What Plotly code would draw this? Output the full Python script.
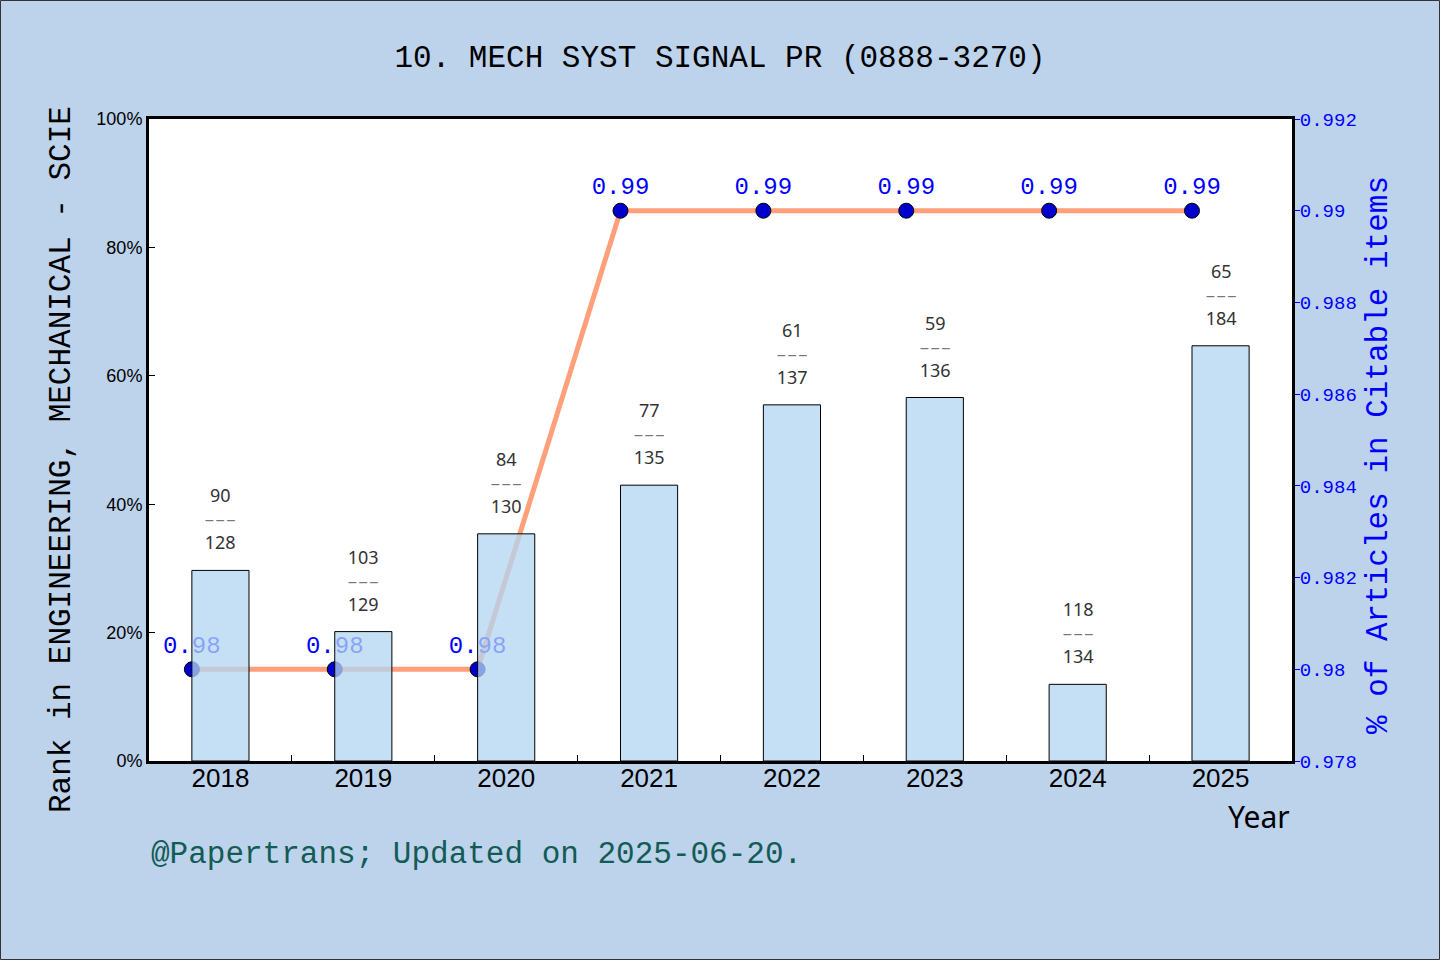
import plotly.graph_objects as go

years = [2018, 2019, 2020, 2021, 2022, 2023, 2024, 2025]
ranks = [90, 103, 84, 77, 61, 59, 118, 65]
totals = [128, 129, 130, 135, 137, 136, 134, 184]
citable = [0.98, 0.98, 0.98, 0.99, 0.99, 0.99, 0.99, 0.99]

left_ticks = [0, 0.2, 0.4, 0.6, 0.8, 1.0]
right_ticks = [0.978, 0.98, 0.982, 0.984, 0.986, 0.988, 0.99, 0.992]

BG = "#BDD3EC"
MONO = "Liberation Mono, DejaVu Sans Mono, monospace"
NARROW = "Liberation Sans Narrow, Arial Narrow, Liberation Sans, sans-serif"

idx = list(range(len(years)))
share = [1 - r / t for r, t in zip(ranks, totals)]
bar_w = 0.4

fig = go.Figure()

# line first (on 'y'), so that the bars on the overlaying axis sit above it
fig.add_trace(go.Scatter(
    x=[i - bar_w / 2 for i in idx],
    y=citable,
    mode="lines+markers+text",
    text=[f"{v:.2f}" for v in citable],
    textposition="top center",
    textfont=dict(family=MONO, size=24, color="#0000FF"),
    line=dict(color="#FFA07A", width=5),
    marker=dict(size=15, color="#0000CD", line=dict(color="black", width=1)),
    yaxis="y",
    showlegend=False,
    cliponaxis=False,
))

fig.add_trace(go.Bar(
    x=idx,
    y=share,
    width=bar_w,
    marker=dict(color="rgba(179,213,242,0.76)", line=dict(color="black", width=1)),
    yaxis="y2",
    showlegend=False,
))

for i, s, r, t in zip(idx, share, ranks, totals):
    fig.add_annotation(
        x=i, y=s, xref="x", yref="y2",
        text=f"{r}<br><span style='font-family:Liberation Mono;color:#777'>–––</span><br>{t}",
        showarrow=False, yanchor="bottom", yshift=14,
        font=dict(family="Noto Sans, sans-serif", size=18, color="#333333"),
    )

fig.update_layout(
    width=1440, height=960,
    paper_bgcolor=BG, plot_bgcolor="white",
    margin=dict(l=149, r=148, t=119, b=199),
    title=dict(
        text="10. MECH SYST SIGNAL PR (0888-3270)",
        x=0.5, xanchor="center", y=0.941, yanchor="middle",
        font=dict(family=MONO, size=31, color="black"),
    ),
    xaxis=dict(
        range=[-0.5, len(years) - 0.5],
        tickvals=idx, ticktext=[str(y) for y in years],
        ticks="", showgrid=False, zeroline=False, ticklabelstandoff=-8,
        showline=True, linecolor="black", linewidth=3, mirror=True,
        tickfont=dict(family=NARROW, size=26, color="black"),
        minor=dict(tickvals=[i + 0.5 for i in idx[:-1]], ticks="inside",
                   ticklen=6, tickcolor="black", showgrid=False),
    ),
    yaxis=dict(
        side="right", range=[right_ticks[0], right_ticks[-1]],
        tickvals=right_ticks, ticktext=[f"{v:g}" for v in right_ticks],
        ticks="outside", ticklen=5, tickcolor="#0000FF",
        showgrid=False, zeroline=False, ticklabelstandoff=-4,
        showline=True, linecolor="black", linewidth=3,
        tickfont=dict(family=MONO, size=19, color="#0000FF"),
    ),
    yaxis2=dict(
        side="left", overlaying="y", range=[0, 1],
        tickvals=left_ticks, ticktext=[f"{int(v * 100)}%" for v in left_ticks],
        ticks="inside", ticklen=6, tickcolor="black",
        showgrid=False, zeroline=False,
        showline=True, linecolor="black", linewidth=3,
        tickfont=dict(family=NARROW, size=18, color="black"),
    ),
)

fig.add_annotation(
    text="Rank in ENGINEERING, MECHANICAL - SCIE",
    xref="paper", yref="paper", x=-0.076, y=0.469, textangle=-90,
    showarrow=False, xanchor="center", yanchor="middle",
    font=dict(family=MONO, size=31, color="black"),
)
fig.add_annotation(
    text="% of Articles in Citable items",
    xref="paper", yref="paper", x=1.0755, y=0.477, textangle=-90,
    showarrow=False, xanchor="center", yanchor="middle",
    font=dict(family=MONO, size=31, color="#0000FF"),
)
fig.add_annotation(
    text="Year", xref="paper", yref="paper", x=1.0, y=-0.087,
    showarrow=False, xanchor="right", yanchor="middle",
    font=dict(family="Noto Sans, sans-serif", size=30, color="black"),
)
fig.add_annotation(
    text="@Papertrans; Updated on 2025-06-20.",
    xref="paper", yref="paper", x=0.0, y=-0.146,
    showarrow=False, xanchor="left", yanchor="middle",
    font=dict(family=MONO, size=31, color="#135B55"),
)

# thin frame round the whole picture
fig.add_shape(
    type="rect", xref="paper", yref="paper",
    x0=-148.5 / 1143, x1=1 + 147.5 / 1143, y0=-198.5 / 642, y1=1 + 118.5 / 642,
    line=dict(color="#333333", width=1), layer="below",
)

fig.write_html(
    "out.html",
    config={"displayModeBar": False},
    post_script="document.body.style.margin='0';",
)
